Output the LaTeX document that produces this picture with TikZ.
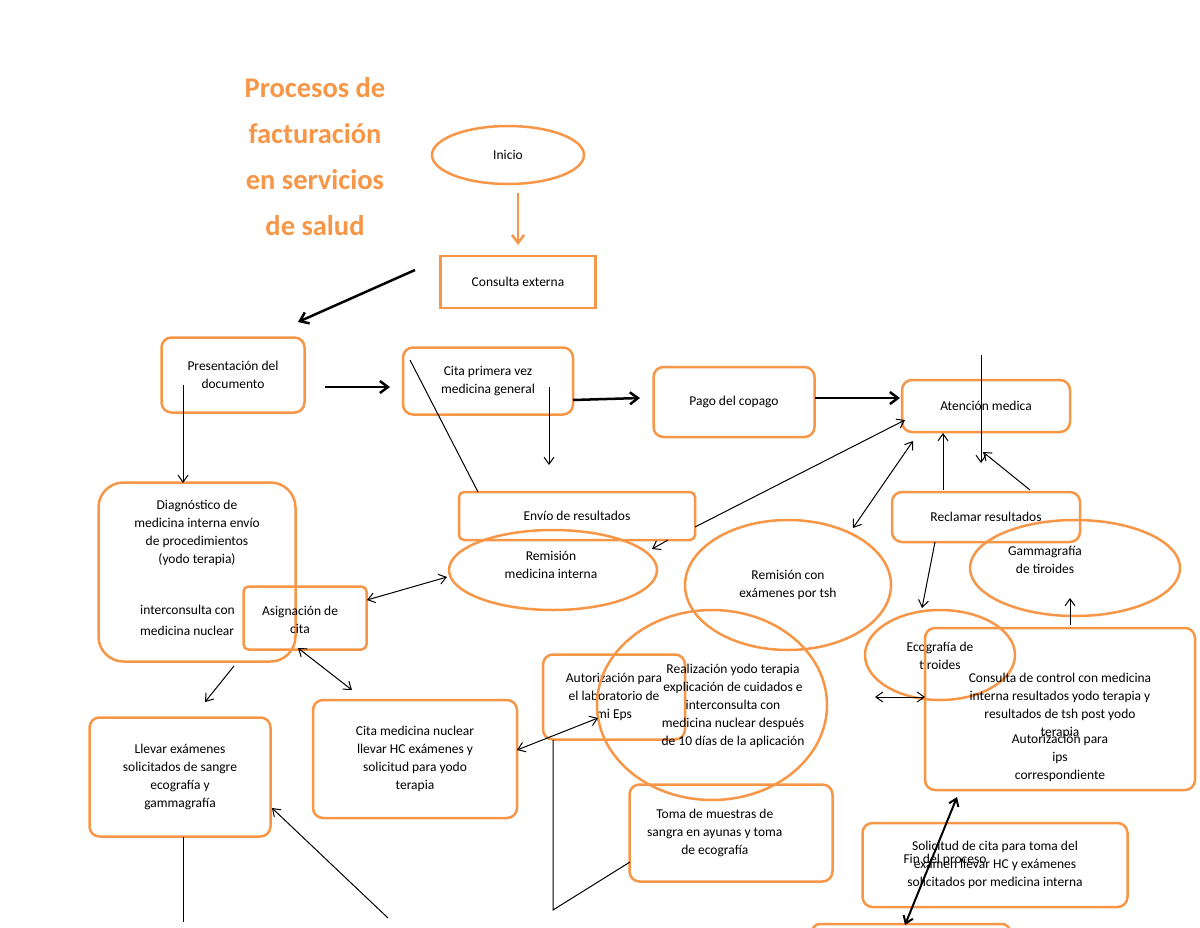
\documentclass[tikz,border=0pt]{standalone}
\usepackage{fontspec}
\setmainfont{Carlito}
\usetikzlibrary{arrows.meta,shapes.geometric}
\definecolor{org}{RGB}{247,150,70}
\begin{document}
\begin{tikzpicture}[x=1pt,y=-1pt,
 font=\fontsize{13.5}{18}\selectfont,
 box/.style={draw=org,line width=2.5pt,rounded corners=10pt,align=center,inner sep=0pt},
 sbox/.style={draw=org,line width=2.5pt,align=center,inner sep=0pt},
 ell/.style={draw=org,line width=2.5pt,ellipse,align=center,inner sep=0pt},
 txt/.style={align=center,inner sep=0pt},
 ar/.style={-{Straight Barb[length=7pt,width=10pt]},line width=1pt},
 tar/.style={-{Straight Barb[length=8pt,width=12pt]},line width=2.5pt},
 dar/.style={{Straight Barb[length=7pt,width=10pt]}-{Straight Barb[length=7pt,width=10pt]},line width=1pt},
 ln/.style={line width=1pt}]
\useasboundingbox (0,0) rectangle (1200,927);
% title
\node[txt,text=org,font=\fontsize{28.5}{46}\selectfont\bfseries] (title) at (315,157) {Procesos de\\facturación\\en servicios\\de salud};
% nodes
\node[ell,minimum width=152pt,minimum height=58pt] (ini) at (508,155) {Inicio};
\node[sbox,minimum width=155pt,minimum height=52pt] (ce) at (518,282) {Consulta externa};
\node[box,minimum width=143pt,minimum height=75pt] (pd) at (233,375) {Presentación del\\documento};
\node[box,minimum width=170pt,minimum height=67pt] (cp) at (488,381) {Cita primera vez\\medicina general};
\node[box,minimum width=161pt,minimum height=70pt] (pc) at (734,402) {Pago del copago};
\node[box,minimum width=168pt,minimum height=52pt] (am) at (986,406) {Atención medica};
\node[ell,minimum width=208pt,minimum height=80pt] (rm) at (553,570) {};
\node[txt] at (551,565) {Remisión\\medicina interna};
\node[box,rounded corners=5pt,minimum width=236pt,minimum height=48pt] (er) at (577,516) {Envío de resultados};
\node[box,rounded corners=25pt,minimum width=197pt,minimum height=179pt] (dg) at (197,572) {};
\node[box,rounded corners=5pt,minimum width=123pt,minimum height=63pt] (ac) at (305,618) {};
\node[txt] at (197,533) {Diagnóstico de\\medicina interna envío\\de procedimientos\\(yodo terapia)};
\node[txt,anchor=west] at (140,610) {interconsulta con};
\node[txt,anchor=west] at (140,631) {medicina nuclear};
\node[txt] at (300,620) {Asignación de\\cita};
\node[box,minimum width=188pt,minimum height=50pt] (rr) at (986,517) {Reclamar resultados};
\node[ell,minimum width=210pt,minimum height=96pt] (gt) at (1075,568) {};
\node[txt] at (1045,560) {Gammagrafía\\de tiroides};
\node[ell,minimum width=206pt,minimum height=130pt] (rt) at (788,585) {Remisión con\\exámenes por tsh};
\node[ell,minimum width=150pt,minimum height=90pt] (et) at (940,655) {};
\node[txt] at (940,656) {Ecografía de\\tiroides};
\node[box,minimum width=270pt,minimum height=162pt] (cc) at (1060,709) {};
\node[txt] at (1060,706) {Consulta de control con medicina\\interna resultados yodo terapia y\\resultados de tsh post yodo\\terapia};
\node[txt] at (1060,758) {Autorización para\\ips\\correspondiente};
\node[box,minimum width=142pt,minimum height=85pt] (au) at (614,697) {};
\node[txt] at (614,697) {Autorización para\\el laboratorio de\\mi Eps};
\node[ell,minimum width=230pt,minimum height=190pt] (ry) at (712,705) {};
\node[txt] at (733,706) {Realización yodo terapia\\explicación de cuidados e\\interconsulta con\\medicina nuclear después\\de 10 días de la aplicación};
\node[box,minimum width=204pt,minimum height=118pt] (cn) at (415,759) {Cita medicina nuclear\\llevar HC exámenes y\\solicitud para yodo\\terapia};
\node[box,minimum width=181pt,minimum height=119pt] (le) at (180,777) {Llevar exámenes\\solicitados de sangre\\ecografía y\\gammagrafía};
\node[box,minimum width=203pt,minimum height=97pt] (tm) at (731,833) {};
\node[txt,anchor=west] at (647,833) {Toma de muestras de\\sangra en ayunas y toma\\de ecografía};
\node[box,minimum width=265pt,minimum height=84pt] (sc) at (995,865) {Solicitud de cita para toma del\\examen llevar HC y exámenes\\solicitados por medicina interna};
\node[txt] (fin) at (945,860) {Fin del proceso};
\draw[draw=org,line width=2.5pt,rounded corners=8pt] (812,935) -- (812,924) -- (1010,924) -- (1010,935);
% coordinates
\coordinate (a1) at (518,193); \coordinate (a2) at (518,245);
\coordinate (b1) at (415,270); \coordinate (b2) at (298,322);
\coordinate (c1) at (325,387); \coordinate (c2) at (390,387);
\coordinate (d1) at (573,400); \coordinate (d2) at (640,398);
\coordinate (e1) at (815,398); \coordinate (e2) at (900,398);
\coordinate (f1) at (981,355); \coordinate (f2) at (981,463);
\coordinate (g1) at (410,360); \coordinate (g2) at (478,492);
\coordinate (h1) at (549,387); \coordinate (h2) at (549,465);
\coordinate (i1) at (695,527); \coordinate (i2) at (905,420);
\coordinate (j1) at (183,385); \coordinate (j2) at (183,483);
\coordinate (k1) at (367,600); \coordinate (k2) at (447,577);
\coordinate (l1) at (853,528); \coordinate (l2) at (913,441);
\coordinate (m1) at (943,490); \coordinate (m2) at (943,433);
\coordinate (n1) at (935,542); \coordinate (n2) at (922,608);
\coordinate (o1) at (1070,625); \coordinate (o2) at (1070,598);
\coordinate (p1) at (1030,490); \coordinate (p2) at (983,452);
\coordinate (q1) at (875,697); \coordinate (q2) at (925,697);
\coordinate (r1) at (517,750); \coordinate (r2) at (598,718);
\coordinate (s1) at (298,648); \coordinate (s2) at (352,690);
\coordinate (t1) at (234,666); \coordinate (t2) at (205,702);
\coordinate (u1) at (183,837); \coordinate (u2) at (183,922);
\coordinate (v1) at (388,918); \coordinate (v2) at (272,808);
\coordinate (w1) at (553,740); \coordinate (w2) at (553,910); \coordinate (w3) at (630,862);
\coordinate (x1) at (957,797); \coordinate (x2) at (905,925);
\coordinate (y1) at (668,540); \coordinate (y2) at (652,549);
% connectors
\draw[tar,draw=org] (a1) -- (a2);
\draw[tar] (b1) -- (b2);
\draw[tar] (c1) -- (c2);
\draw[tar] (d1) -- (d2);
\draw[tar] (e1) -- (e2);
\draw[ar] (f1) -- (f2);
\draw[ln] (g1) -- (g2);
\draw[ar] (h1) -- (h2);
\draw[ar] (i1) -- (i2);
\draw[ar] (j1) -- (j2);
\draw[dar] (k1) -- (k2);
\draw[dar] (l1) -- (l2);
\draw[ar] (m1) -- (m2);
\draw[ar] (n1) -- (n2);
\draw[ar] (o1) -- (o2);
\draw[ar] (p1) -- (p2);
\draw[dar] (q1) -- (q2);
\draw[dar] (r1) -- (r2);
\draw[dar] (s1) -- (s2);
\draw[ar] (t1) -- (t2);
\draw[ln] (u1) -- (u2);
\draw[ar] (v1) -- (v2);
\draw[ln] (w1) -- (w2) -- (w3);
\draw[dar,line width=2pt] (x1) -- (x2);
\draw[ar] (y1) -- (y2);
\end{tikzpicture}
\end{document}
